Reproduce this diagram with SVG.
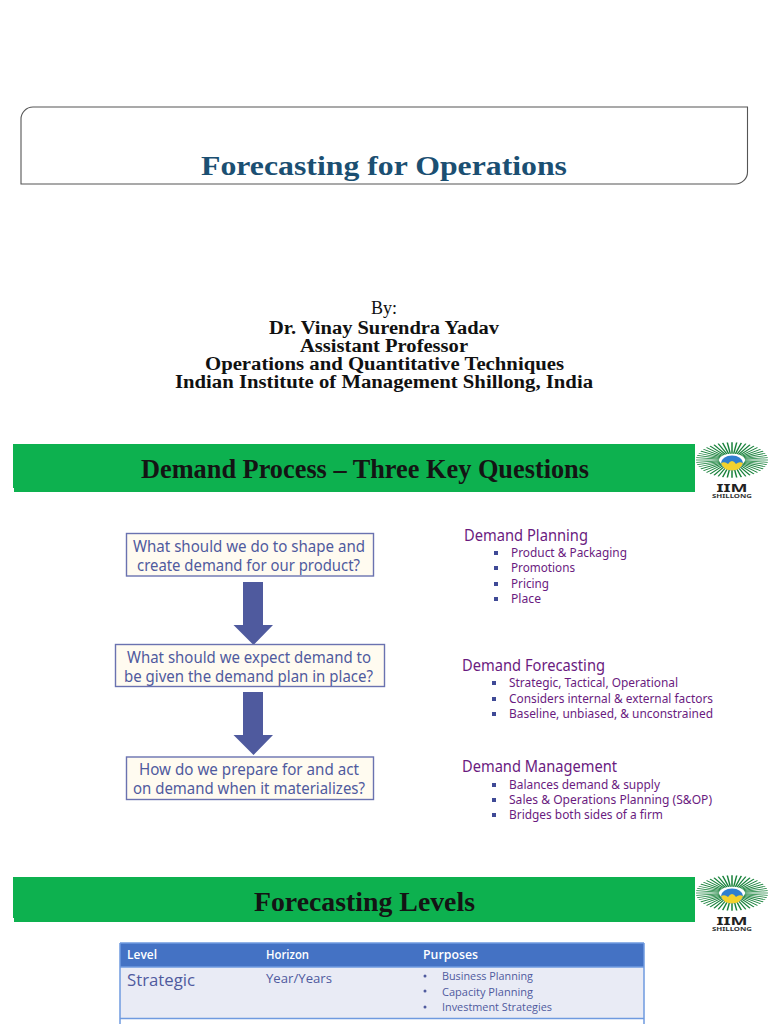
<svg xmlns="http://www.w3.org/2000/svg" width="768" height="1024" viewBox="0 0 768 1024">
<style>
.pal{font-family:"Liberation Serif","DejaVu Serif",serif}
.sans{font-family:"Noto Sans","DejaVu Sans",sans-serif}
.seg{font-family:"Open Sans","Noto Sans",sans-serif}
.by{font-size:18px;fill:#111;font-weight:bold}
.head{font-size:27px;font-weight:bold;fill:#141414}
.box{fill:#fffbf0;stroke:#6a72b0;stroke-width:1.4}
.q{font-size:16.5px;fill:#4f5a9e}
.h2{font-size:16.5px;fill:#6a1b80}
.it{font-size:12.8px;fill:#6a1b80}
.sq{fill:#3f4a96}
.arrow{fill:#4f5a9e}
.bar{fill:#0db14f}
.ray{stroke:#17813a;stroke-width:1.5}
.th{font-size:12.5px;font-weight:600;fill:#fff}
.td{fill:#4f5a9e}
.tb{stroke:#6f9ae0;stroke-width:1.5;fill:none}
</style>
<defs>
<g id="logo">
<g transform="translate(0,-3) scale(1,.49)">
<g id="rays4">
<line class="ray" x1="13" y1="0" x2="36" y2="0"/>
<line class="ray" x1="13" y1="0" x2="36" y2="0" transform="rotate(7.5)"/>
<line class="ray" x1="13" y1="0" x2="36" y2="0" transform="rotate(15)"/>
<line class="ray" x1="13" y1="0" x2="36" y2="0" transform="rotate(22.5)"/>
</g>
<use href="#rays4" transform="rotate(30)"/>
<use href="#rays4" transform="rotate(60)"/>
<use href="#rays4" transform="rotate(90)"/>
<use href="#rays4" transform="rotate(120)"/>
<use href="#rays4" transform="rotate(150)"/>
<use href="#rays4" transform="rotate(180)"/>
<use href="#rays4" transform="rotate(210)"/>
<use href="#rays4" transform="rotate(240)"/>
<use href="#rays4" transform="rotate(270)"/>
<use href="#rays4" transform="rotate(300)"/>
<use href="#rays4" transform="rotate(330)"/>
</g>
<ellipse cx="0" cy="0" rx="11" ry="7.500" fill="#2f7fd0"/>
<path d="M-11 0Q-7 -2 -4 1Q0 -5 4 1Q7 -2 11 0Q9 7.500 0 7.500Q-9 7.500 -11 0Z" fill="#f2d22e"/>
<text x="0" y="29" text-anchor="middle" font-size="11" font-weight="bold" fill="#222" class="sans" textLength="31" lengthAdjust="spacingAndGlyphs">IIM</text>
<text x="0" y="35" text-anchor="middle" font-size="5.500" font-weight="bold" fill="#333" class="sans" textLength="40" lengthAdjust="spacingAndGlyphs">SHILLONG</text>
</g>
</defs>

<g id="title">
<path d="M33 107H747.500V172A12 12 0 0 1 735.500 184H21V119A12 12 0 0 1 33 107Z" fill="#fff" stroke="#555" stroke-width="1.100"/>
<text class="pal" x="201" y="175" font-size="27" font-weight="bold" fill="#1b4f72" textLength="366" lengthAdjust="spacingAndGlyphs">Forecasting for Operations</text>
</g>
<g id="author">
<text class="pal by" style="font-weight:normal" x="371" y="314" textLength="26" lengthAdjust="spacingAndGlyphs">By:</text>
<text class="pal by" x="269" y="334" textLength="230" lengthAdjust="spacingAndGlyphs">Dr. Vinay Surendra Yadav</text>
<text class="pal by" x="300" y="352" textLength="168" lengthAdjust="spacingAndGlyphs">Assistant Professor</text>
<text class="pal by" x="205" y="370" textLength="359" lengthAdjust="spacingAndGlyphs">Operations and Quantitative Techniques</text>
<text class="pal by" x="175" y="388" textLength="418" lengthAdjust="spacingAndGlyphs">Indian Institute of Management Shillong, India</text>
</g>

<g id="banner-1">
<path class="bar" d="M13 444H695V492H14V488H13Z"/>
<text class="pal head" x="141" y="478" textLength="448" lengthAdjust="spacingAndGlyphs">Demand Process – Three Key Questions</text>
<use href="#logo" x="732" y="463"/>
</g>

<g id="connectors">
<path class="arrow" d="M243 582H263V625H273L253.500 645L233.500 625H243Z"/>
<path class="arrow" d="M243 692H263V735H273L253.500 755L233.500 735H243Z"/>
</g>

<g id="q1">
<rect class="box" x="126.500" y="533.500" width="247" height="42.500"/>
<text class="sans q" x="133" y="552" textLength="232" lengthAdjust="spacingAndGlyphs">What should we do to shape and</text>
<text class="sans q" x="137" y="571" textLength="223" lengthAdjust="spacingAndGlyphs">create demand for our product?</text>
</g>
<g id="q2">
<rect class="box" x="115.500" y="644.500" width="269" height="42"/>
<text class="sans q" x="127" y="663" textLength="244" lengthAdjust="spacingAndGlyphs">What should we expect demand to</text>
<text class="sans q" x="124" y="682" textLength="249" lengthAdjust="spacingAndGlyphs">be given the demand plan in place?</text>
</g>
<g id="q3">
<rect class="box" x="126.500" y="757" width="247" height="42.500"/>
<text class="sans q" x="139" y="775" textLength="220" lengthAdjust="spacingAndGlyphs">How do we prepare for and act</text>
<text class="sans q" x="133" y="794" textLength="232" lengthAdjust="spacingAndGlyphs">on demand when it materializes?</text>
</g>

<g id="demand-planning">
<text class="sans h2" x="464" y="541" textLength="124" lengthAdjust="spacingAndGlyphs">Demand Planning</text>
<rect class="sq" x="494" y="551" width="4" height="4"/>
<rect class="sq" x="494" y="566" width="4" height="4"/>
<rect class="sq" x="494" y="582" width="4" height="4"/>
<rect class="sq" x="494" y="597" width="4" height="4"/>
<text class="sans it" x="511" y="557" textLength="116" lengthAdjust="spacingAndGlyphs">Product &amp; Packaging</text>
<text class="sans it" x="511" y="572" textLength="64" lengthAdjust="spacingAndGlyphs">Promotions</text>
<text class="sans it" x="511" y="588" textLength="38" lengthAdjust="spacingAndGlyphs">Pricing</text>
<text class="sans it" x="511" y="603" textLength="30" lengthAdjust="spacingAndGlyphs">Place</text>
</g>
<g id="demand-forecasting">
<text class="sans h2" x="462" y="671" textLength="143" lengthAdjust="spacingAndGlyphs">Demand Forecasting</text>
<rect class="sq" x="492" y="681" width="4" height="4"/>
<rect class="sq" x="492" y="697" width="4" height="4"/>
<rect class="sq" x="492" y="712" width="4" height="4"/>
<text class="sans it" x="509" y="687" textLength="169" lengthAdjust="spacingAndGlyphs">Strategic, Tactical, Operational</text>
<text class="sans it" x="509" y="703" textLength="204" lengthAdjust="spacingAndGlyphs">Considers internal &amp; external factors</text>
<text class="sans it" x="509" y="718" textLength="204" lengthAdjust="spacingAndGlyphs">Baseline, unbiased, &amp; unconstrained</text>
</g>
<g id="demand-management">
<text class="sans h2" x="462" y="772" textLength="155" lengthAdjust="spacingAndGlyphs">Demand Management</text>
<rect class="sq" x="492" y="783" width="4" height="4"/>
<rect class="sq" x="492" y="798" width="4" height="4"/>
<rect class="sq" x="492" y="813" width="4" height="4"/>
<text class="sans it" x="509" y="789" textLength="151" lengthAdjust="spacingAndGlyphs">Balances demand &amp; supply</text>
<text class="sans it" x="509" y="804" textLength="203" lengthAdjust="spacingAndGlyphs">Sales &amp; Operations Planning (S&amp;OP)</text>
<text class="sans it" x="509" y="819" textLength="154" lengthAdjust="spacingAndGlyphs">Bridges both sides of a firm</text>
</g>

<g id="banner-2">
<path class="bar" d="M13 877H695V922H14V918H13Z"/>
<text class="pal head" x="254" y="911" textLength="221" lengthAdjust="spacingAndGlyphs">Forecasting Levels</text>
<use href="#logo" x="732" y="896"/>
</g>

<g id="levels-table">
<rect x="120" y="943" width="524" height="24" fill="#4472c4"/>
<rect x="120" y="967" width="524" height="51" fill="#e9ebf5"/>
<path class="tb" d="M120 943V1024M644 943V1024M120 943H644M120 967H644M120 1018.500H644"/>
<text class="seg th" x="127" y="959" textLength="30" lengthAdjust="spacingAndGlyphs">Level</text>
<text class="seg th" x="266" y="959" textLength="43" lengthAdjust="spacingAndGlyphs">Horizon</text>
<text class="seg th" x="423" y="959" textLength="55" lengthAdjust="spacingAndGlyphs">Purposes</text>
<text class="seg td" x="127" y="986" font-size="16" textLength="68" lengthAdjust="spacingAndGlyphs">Strategic</text>
<text class="seg td" x="266" y="983" font-size="13.500" textLength="66" lengthAdjust="spacingAndGlyphs">Year/Years</text>
<circle class="td" cx="425" cy="976" r="1.500"/>
<circle class="td" cx="425" cy="991" r="1.500"/>
<circle class="td" cx="425" cy="1007" r="1.500"/>
<text class="seg td" x="442" y="980" font-size="11" textLength="91" lengthAdjust="spacingAndGlyphs">Business Planning</text>
<text class="seg td" x="442" y="996" font-size="11" textLength="91" lengthAdjust="spacingAndGlyphs">Capacity Planning</text>
<text class="seg td" x="442" y="1011" font-size="11" textLength="110" lengthAdjust="spacingAndGlyphs">Investment Strategies</text>
</g>
</svg>
